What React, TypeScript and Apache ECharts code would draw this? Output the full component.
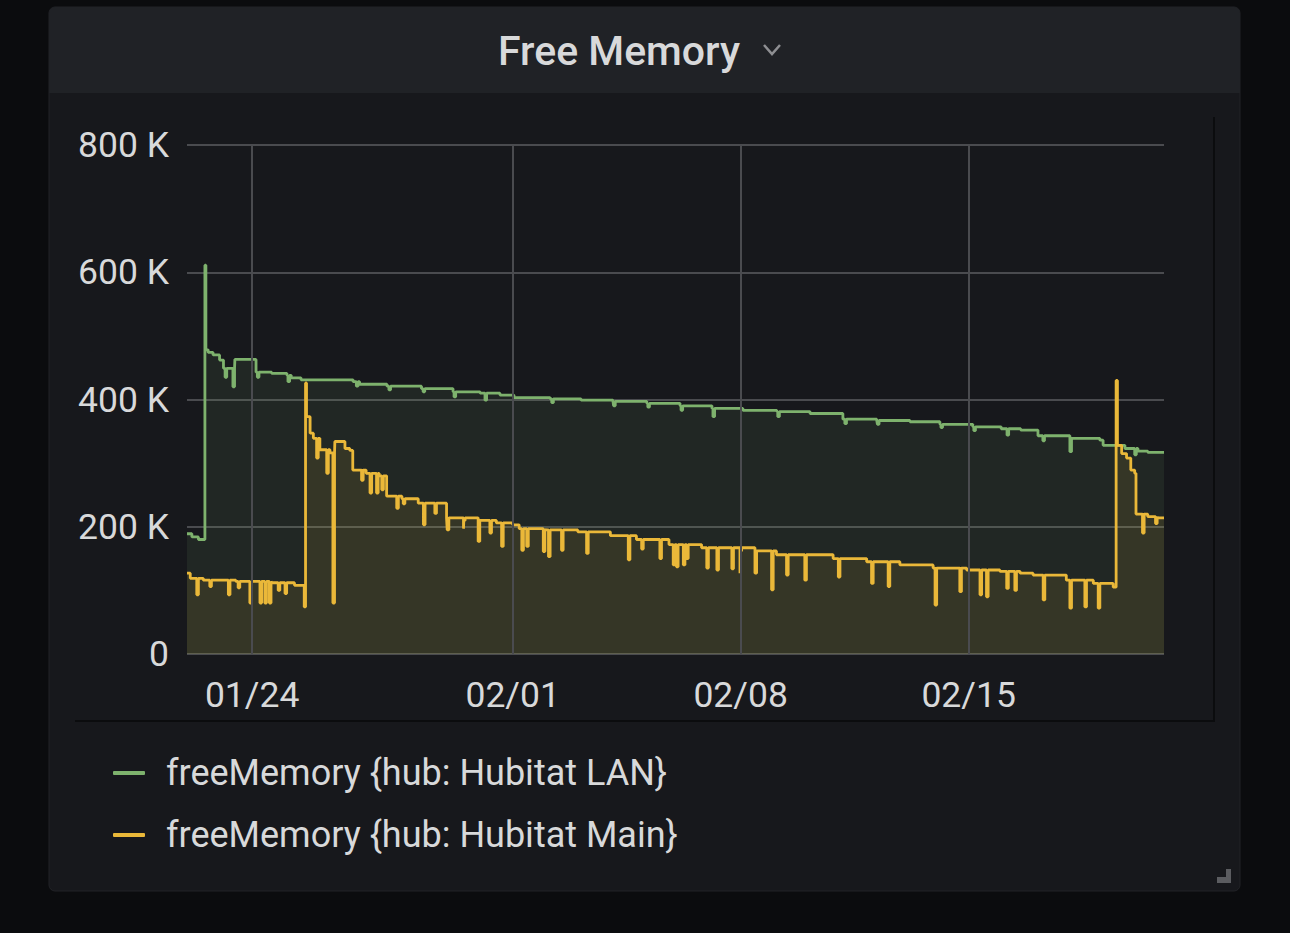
import React, { useEffect, useRef } from "react";
import * as echarts from "echarts";

// ---- time frame: x is measured in days since 01/22 00:00 ----
const SPAN_DAYS = 30;
const SPIKE_W = 0.05; // width of a one-sample dip, in days

// ---- ticks ----
const TICK_DAYS = [2, 10, 17, 24];
const TICK_LABELS = ["01/24", "02/01", "02/08", "02/15"];
const Y_MAX = 800;
const Y_STEP = 200;

// ---- series ----
const SERIES_NAMES = ["freeMemory {hub: Hubitat LAN}", "freeMemory {hub: Hubitat Main}"];
const COLORS = ["#7eb26d", "#eab839"];

// [day since 01/22, free memory in K] — held until the next point
const LAN_BASE: [number, number][] = [
  [0, 189], [0.15, 184], [0.35, 180], [0.55, 611], [0.58, 478], [0.65, 474], [0.8, 470],
  [1.0, 462], [1.12, 449], [1.47, 463], [2.12, 443], [2.6, 441], [3.07, 438], [3.2, 434],
  [3.5, 431], [5.1, 428], [5.3, 424], [6.14, 421], [7.2, 417], [8.17, 412], [9.0, 410],
  [9.61, 407], [10.04, 403], [11.15, 401], [12.1, 399], [13.08, 397], [14.12, 394],
  [15.14, 390], [16.12, 386], [17.07, 383], [18.11, 381], [19.13, 378], [20.14, 369],
  [21.18, 367], [22.2, 365], [23.12, 361], [24.13, 357], [25.0, 354], [25.6, 352],
  [26.13, 343], [27.11, 339], [28.03, 336], [28.13, 328], [28.8, 323], [29.2, 319],
  [29.5, 317], [30, 317],
];
// short dips [day, value in K]
const LAN_SPIKES: [number, number][] = [
  [1.17, 435], [1.41, 420], [2.16, 435], [3.1, 428], [5.2, 421], [6.2, 415], [7.25, 412],
  [8.2, 404], [9.15, 399], [11.2, 395], [13.1, 390], [14.15, 388], [15.17, 383],
  [16.15, 373], [18.14, 373], [20.2, 362], [21.2, 361], [23.15, 356], [24.16, 351],
  [25.18, 344], [26.28, 335], [27.11, 318], [29.1, 313],
];

const MAIN_BASE: [number, number][] = [
  [0, 127], [0.1, 119], [0.5, 116], [1.5, 114], [2.6, 112], [3.3, 108], [3.6, 74],
  [3.64, 426], [3.67, 373], [3.78, 347], [3.88, 339], [4.08, 321], [4.39, 316],
  [4.54, 334], [4.85, 323], [5.0, 320], [5.09, 289], [5.5, 284], [5.9, 280], [6.13, 248],
  [6.6, 244], [7.1, 237], [7.97, 214], [8.5, 210], [9.5, 206], [10.0, 203], [10.2, 197],
  [11.0, 195], [12.0, 192], [13.0, 186], [13.8, 180], [14.8, 172], [15.8, 167],
  [17.0, 162], [18.1, 156], [19.84, 150], [20.87, 145], [21.89, 140], [22.91, 135],
  [23.94, 132], [24.96, 130], [25.58, 127], [25.98, 124], [27.0, 116], [27.83, 111],
  [28.44, 105], [28.53, 430], [28.57, 328], [28.7, 315], [28.85, 308], [28.98, 289],
  [29.1, 284], [29.14, 220], [29.5, 216], [29.8, 214], [30, 214],
];
const MAIN_SPIKES: [number, number][] = [
  [0.3, 93], [0.7, 106], [1.27, 93], [1.57, 104], [1.93, 80], [2.24, 80], [2.39, 80],
  [2.53, 80], [2.8, 100], [3.01, 95], [3.98, 308], [4.29, 284], [4.48, 80], [5.36, 273],
  [5.62, 253], [5.82, 253], [5.98, 258], [6.44, 229], [6.64, 236], [7.26, 203],
  [7.61, 221], [7.99, 195], [8.49, 197], [8.94, 177], [9.3, 190], [9.66, 169],
  [10.28, 163], [10.43, 169], [10.94, 161], [11.1, 153], [11.5, 163], [12.27, 158],
  [13.55, 148], [13.96, 165], [14.52, 150], [14.93, 140], [15.03, 137], [15.24, 140],
  [15.34, 150], [15.96, 135], [16.27, 132], [16.73, 134], [16.98, 127], [17.44, 127],
  [17.95, 101], [18.41, 124], [18.97, 116], [20.0, 121], [21.02, 111], [21.53, 106],
  [22.97, 77], [23.73, 98], [24.35, 93], [24.55, 90], [25.17, 103], [25.42, 100],
  [26.29, 85], [27.11, 72], [27.57, 74], [27.98, 72], [29.34, 190], [29.74, 205],
];

function build(base: [number, number][], spikes: [number, number][]) {
  const pts: [number, number][] = base.map(([d, v]) => [d, v]);
  for (const [s, low] of spikes) {
    let held = base[0][1];
    for (const [d, v] of base) if (d <= s) held = v;
    pts.push([s, low], [s + SPIKE_W, held]);
  }
  pts.sort((a, b) => a[0] - b[0]);
  return pts;
}

const FONT = "Roboto, 'Noto Sans', sans-serif";
const TEXT = "#d8d9da";
const GRID = "#4a4b4f";

export default function App() {
  const ref = useRef<HTMLDivElement>(null);

  useEffect(() => {
    if (!ref.current) return;
    const chart = echarts.init(ref.current, null, { renderer: "svg" });
    const seriesData = [build(LAN_BASE, LAN_SPIKES), build(MAIN_BASE, MAIN_SPIKES)];

    chart.setOption({
      animation: false,
      backgroundColor: "#0b0c0e",
      textStyle: { fontFamily: FONT },
      title: {
        text: "Free Memory",
        left: 493,
        top: 25,
        textStyle: { color: TEXT, fontSize: 41, fontWeight: 500, fontFamily: FONT },
      },
      graphic: [
        {
          type: "rect",
          z: -10,
          shape: { x: 49, y: 7, width: 1191, height: 884, r: 6 },
          style: { fill: "#17181c", stroke: "#222327", lineWidth: 1 },
        },
        {
          type: "rect",
          z: -9,
          shape: { x: 49, y: 7, width: 1191, height: 86, r: [6, 6, 0, 0] },
          style: { fill: "#202226" },
        },
        {
          type: "polyline",
          z: -8,
          shape: { points: [[764, 45], [772, 54], [780, 45]] },
          style: { stroke: "#8e8f92", lineWidth: 2.5, fill: null },
        },
        {
          type: "polyline",
          z: -8,
          shape: { points: [[75, 721], [1214, 721], [1214, 117]] },
          style: { stroke: "#0b0c0e", lineWidth: 2, fill: null },
        },
        {
          type: "rect",
          z: -8,
          shape: { x: 1226, y: 869, width: 5, height: 14 },
          style: { fill: "#5b5c60" },
        },
        {
          type: "rect",
          z: -8,
          shape: { x: 1217, y: 877, width: 14, height: 6 },
          style: { fill: "#5b5c60" },
        },
      ],
      grid: { left: 187, top: 145, width: 977, height: 509, containLabel: false },
      xAxis: {
        type: "value",
        min: 0,
        max: SPAN_DAYS,
        axisLine: { show: false },
        axisTick: { show: false },
        splitLine: { show: false },
        axisLabel: {
          customValues: TICK_DAYS,
          formatter: (v: number) => {
            const i = TICK_DAYS.indexOf(Math.round(v));
            return i >= 0 ? TICK_LABELS[i] : "";
          },
          color: TEXT,
          fontSize: 35.5,
          fontFamily: FONT,
          margin: 23,
          hideOverlap: false,
        },
      },
      yAxis: {
        type: "value",
        min: 0,
        max: Y_MAX,
        interval: Y_STEP,
        axisLine: { show: false },
        axisTick: { show: false },
        splitLine: { show: true, lineStyle: { color: GRID, width: 2 } },
        axisLabel: {
          formatter: (v: number) => (v === 0 ? "0" : `${v} K`),
          color: TEXT,
          fontSize: 35.5,
          fontFamily: FONT,
          margin: 18,
        },
      },
      legend: {
        data: SERIES_NAMES,
        orient: "vertical",
        left: 113,
        top: 753,
        padding: 0,
        icon: "roundRect",
        itemWidth: 32,
        itemHeight: 4,
        itemGap: 22,
        selectedMode: false,
        textStyle: {
          color: TEXT,
          fontSize: 36,
          fontFamily: FONT,
          lineHeight: 40,
          padding: [0, 0, 0, 16],
        },
      },
      series: [
        {
          type: "line",
          data: [],
          silent: true,
          z: 1,
          markLine: {
            silent: true,
            symbol: ["none", "none"],
            label: { show: false },
            lineStyle: { color: GRID, width: 2, type: "solid" },
            emphasis: { disabled: true },
            data: TICK_DAYS.map((d) => ({ xAxis: d })),
          },
        },
        ...SERIES_NAMES.map((name, i) => ({
          name,
          type: "line",
          step: "end",
          data: seriesData[i],
          showSymbol: false,
          symbol: "none",
          z: 3 + i,
          color: COLORS[i],
          lineStyle: { color: COLORS[i], width: 2.8 },
          itemStyle: { color: COLORS[i] },
          areaStyle: { color: COLORS[i], opacity: 0.1 },
        })),
      ],
    });

    return () => chart.dispose();
  }, []);

  return (
    <div
      ref={ref}
      style={{ position: "fixed", left: 0, top: 0, width: 1290, height: 933, background: "#0b0c0e" }}
    />
  );
}
